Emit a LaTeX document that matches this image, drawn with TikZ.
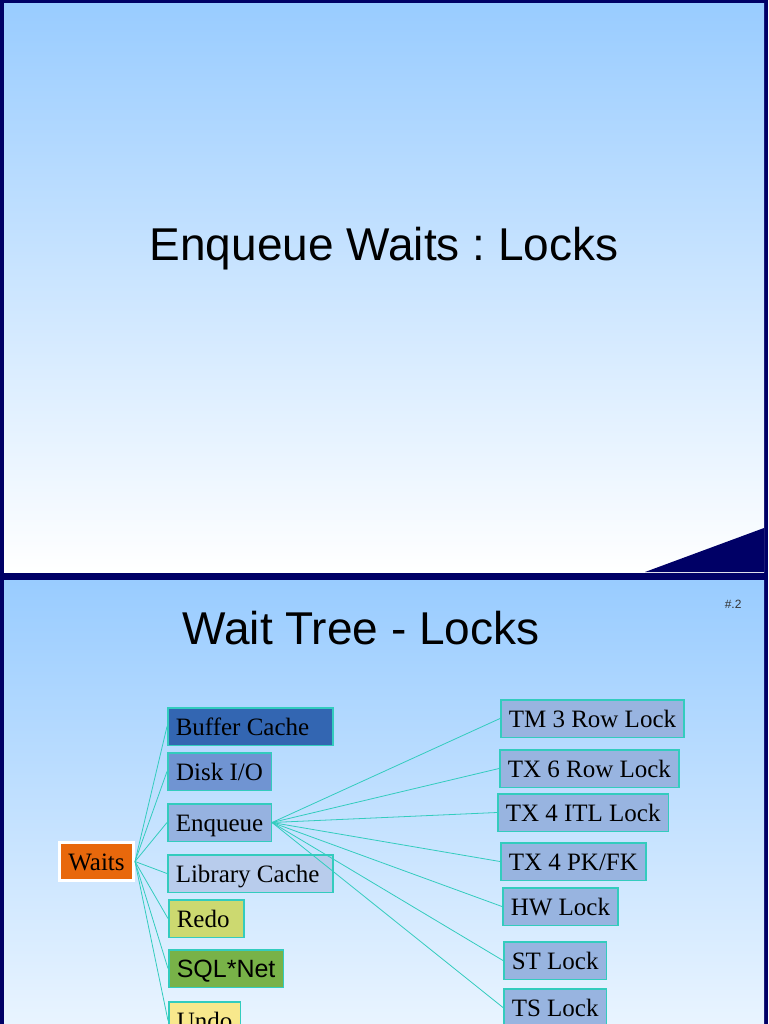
\documentclass[tikz,border=0pt]{standalone}
\usepackage{fontspec}
\setmainfont{Liberation Serif}
\newfontfamily\arialfont{Liberation Sans}
\usepackage{xcolor}
\usepackage{tikz}
\frenchspacing

\definecolor{navy}{RGB}{0,0,102}
\definecolor{slidetop}{RGB}{153,204,255}
\definecolor{tealline}{RGB}{51,204,190}
\definecolor{waitsorange}{RGB}{232,104,12}
\definecolor{bufcol}{RGB}{51,102,178}
\definecolor{diskcol}{RGB}{112,148,210}
\definecolor{enqcol}{RGB}{150,178,224}
\definecolor{libcol}{RGB}{184,204,236}
\definecolor{redocol}{RGB}{204,217,112}
\definecolor{sqlcol}{RGB}{120,178,72}
\definecolor{undocol}{RGB}{248,232,140}
\definecolor{lockcol}{RGB}{152,180,224}

\begin{document}
\begin{tikzpicture}[
    x=1pt, y=-1pt,
    every node/.style={font=\fontsize{25}{30}\selectfont},
    title/.style={font=\arialfont\fontsize{46}{55}\selectfont, anchor=base},
    waitbox/.style={
        rectangle, draw=tealline, line width=1.5pt, anchor=north west,
        inner xsep=8pt, inner ysep=2pt, minimum height=37.5pt,
        minimum width=#1, text height=22pt, text depth=5pt
    },
    leftbox/.style={text width=#1, align=flush left},
    rootbox/.style={
        rectangle, fill=waitsorange, draw=white, line width=3pt,
        minimum width=74pt, minimum height=38pt, inner ysep=2pt,
        text height=22pt, text depth=5pt
    },
    link/.style={draw=tealline, line width=0.8pt}
]
\useasboundingbox (0,0) rectangle (768,1024);
\clip (0,0) rectangle (768,1024);

% Slides
\fill[navy] (0,0) rectangle (768,1024);
\shade[top color=slidetop, bottom color=white] (4,4) rectangle (764,572);
\fill[navy] (645,572) -- (764,528) -- (764,572) -- cycle;
\shade[top color=slidetop, bottom color=white] (4,580) rectangle (764,1148);

\node[title] (title1) at (384,260) {Enqueue Waits : Locks};
\node[title] (title2) at (361,644) {Wait Tree - Locks};
\node[font=\arialfont\fontsize{12}{14}\selectfont, text=black!80, anchor=base east]
    (slidenum) at (745,608) {\#.2};

% Root
\node[rootbox] (waits) at (96.5,861.5) {Waits};

% Wait classes
\node[waitbox=163.5pt, leftbox=149pt, fill=bufcol] (buffer) at (167,707) {Buffer Cache};
\node[waitbox=103.5pt, fill=diskcol] (disk) at (167,752) {Disk I/O};
\node[waitbox=103.5pt, fill=enqcol] (enqueue) at (167,803) {Enqueue};
\node[waitbox=163.5pt, leftbox=149pt, fill=libcol] (library) at (167,854) {Library Cache};
\node[waitbox=73.5pt, leftbox=59pt, fill=redocol] (redo) at (168,899) {Redo};
\node[waitbox=113.5pt, fill=sqlcol, font=\arialfont\fontsize{25}{30}\selectfont]
    (sqlnet) at (168,949) {SQL*Net};
\node[waitbox=69.5pt, fill=undocol] (undo) at (168,1001) {Undo};

% Locks
\node[waitbox=182.5pt, fill=lockcol] (tmrow) at (500,699) {TM 3 Row Lock};
\node[waitbox=177.5pt, fill=lockcol] (txrow) at (499,749) {TX 6 Row Lock};
\node[waitbox=170.5pt, fill=lockcol] (txitl) at (497,793) {TX 4 ITL Lock};
\node[waitbox=143.5pt, fill=lockcol] (txpkfk) at (500,842) {TX 4 PK/FK};
\node[waitbox=114.5pt, fill=lockcol] (hwlock) at (502,887) {HW Lock};
\node[waitbox=102.5pt, fill=lockcol] (stlock) at (503,941) {ST Lock};
\node[waitbox=102.5pt, fill=lockcol] (tslock) at (503,988) {TS Lock};

% Links
\draw[link] (waits.east)   -- (buffer.west);
\draw[link] (waits.east)   -- (disk.west);
\draw[link] (waits.east)   -- (enqueue.west);
\draw[link] (waits.east)   -- (library.west);
\draw[link] (waits.east)   -- (redo.west);
\draw[link] (waits.east)   -- (sqlnet.west);
\draw[link] (waits.east)   -- (undo.west);
\draw[link] (enqueue.east) -- (tmrow.west);
\draw[link] (enqueue.east) -- (txrow.west);
\draw[link] (enqueue.east) -- (txitl.west);
\draw[link] (enqueue.east) -- (txpkfk.west);
\draw[link] (enqueue.east) -- (hwlock.west);
\draw[link] (enqueue.east) -- (stlock.west);
\draw[link] (enqueue.east) -- (tslock.west);

\end{tikzpicture}
\end{document}
